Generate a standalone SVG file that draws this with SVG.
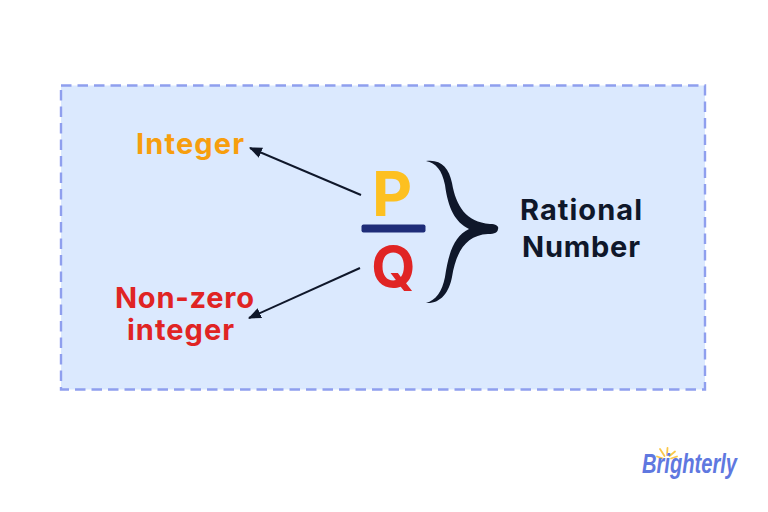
<svg xmlns="http://www.w3.org/2000/svg" width="768" height="512" viewBox="0 0 768 512">
<defs>
<style>
text{font-family:"Inter","Noto Sans","Liberation Sans",sans-serif;font-weight:700;text-anchor:middle}
.lbl{font-size:29px}
.dark{fill:#0f172a}
.red{fill:#e02424}
.conn{stroke:#0f172a;stroke-width:2;fill:none;marker-end:url(#arrow)}
</style>
<marker id="arrow" viewBox="0 0 12 10" refX="11" refY="5" markerWidth="6.5" markerHeight="5.5" orient="auto" markerUnits="strokeWidth"><path d="M0 0L12 5L0 10Z" fill="#0f172a"/></marker>
</defs>
<rect width="768" height="512" fill="#ffffff"/>
<g id="panel"><rect x="61" y="85.500" width="644" height="304" fill="#dbe9fe" stroke="#8f9fee" stroke-width="2.400" stroke-dasharray="10.500 6"/></g>
<g id="connectors">
<line class="conn" x1="361" y1="195" x2="250" y2="148"/>
<line class="conn" x1="360" y1="268" x2="249" y2="318"/>
</g>
<g id="integer"><text class="lbl" x="190" y="154" fill="#f79e0d" textLength="108">Integer</text></g>
<g id="non-zero-integer">
<text class="lbl red" x="184.500" y="308" textLength="139">Non-zero</text>
<text class="lbl red" x="180.500" y="340" textLength="107">integer</text>
</g>
<g id="fraction">
<text x="392" y="216" font-size="62" fill="#fdc020">P</text>
<rect x="361.500" y="224.500" width="64" height="8" rx="2" fill="#1e2c78"/>
<text x="393.500" y="287" font-size="57" fill="#e02424">Q</text>
</g>
<g id="brace"><path class="dark" d="M426 161C441 159 449 168 452 183C456 206 466 222 490 224C497 224 499 227 498 229C498 232 495 234 488 234C466 235 456 252 452 277C449 293 440 304 426 303C436 300 442 292 445 277C449 250 455 236 469 229C455 222 448 208 445 185C442 170 436 163 426 161Z"/></g>
<g id="rational-number">
<text class="lbl dark" x="581" y="220" textLength="122">Rational</text>
<text class="lbl dark" x="581" y="257" textLength="118">Number</text>
</g>
<g id="logo">
<g stroke="#fbc84a" stroke-width="1.800" stroke-linecap="round">
<line x1="663" y1="458.500" x2="657" y2="456.500"/><line x1="664.500" y1="456" x2="660" y2="449"/><line x1="667" y1="455" x2="667.500" y2="448"/><line x1="669.500" y1="456" x2="675" y2="451.500"/><line x1="671" y1="458.500" x2="677" y2="456.500"/>
</g>
<text x="689.500" y="473" font-size="27" textLength="95" lengthAdjust="spacingAndGlyphs" style="font-family:'Liberation Sans',sans-serif;font-style:italic;font-weight:700" fill="#5f78e0">Brighterly</text>
</g>
</svg>
